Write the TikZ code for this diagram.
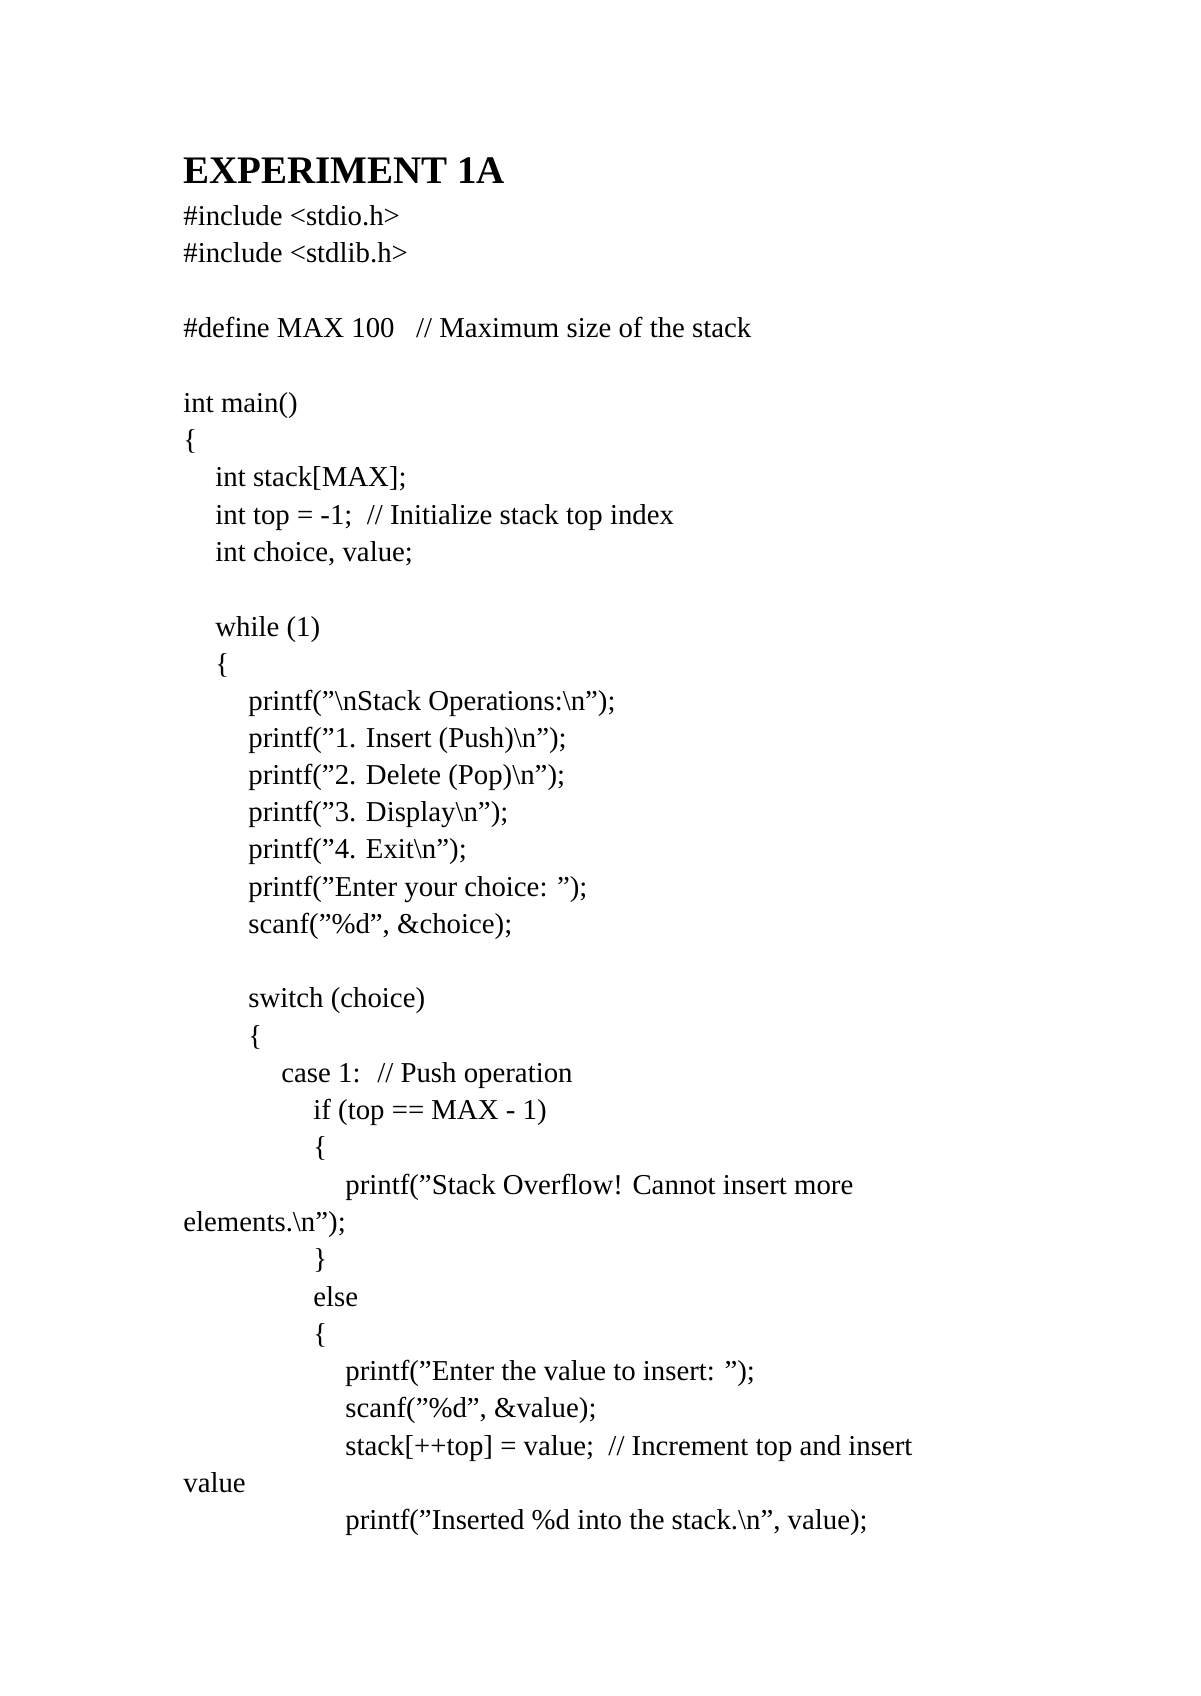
\documentclass[tikz,border=0pt]{standalone}
\usepackage{fontspec}
\setmainfont{Liberation Serif}[Ligatures=NoCommon]
\begin{document}
\begin{tikzpicture}[x=0.5pt,y=-0.5pt,
  ln/.style={anchor=base west,inner sep=0pt,font=\fontsize{14.4pt}{16pt}\selectfont}]
\useasboundingbox (0,0) rectangle (1200,1696);
\node[anchor=base west,inner sep=0pt,font=\bfseries\fontsize{19.5pt}{22pt}\selectfont] (title) at (183,184) {EXPERIMENT 1A};
\def\bs{\textbackslash}
\def\q{\symbol{34}}
\node[ln] (a1) at (183,226) {\#include <stdio.h>};
\node[ln] (a2) at (183,263) {\#include <stdlib.h>};
\node[ln] (a3) at (183,337) {\#define MAX 100 \ \ // Maximum size of the stack};
\node[ln] (a4) at (183,412) {int main()};
\node[ln] (a5) at (183,449) {\{};
\node[ln] (a6) at (215,486) {int stack[MAX];};
\node[ln] (a7) at (215,524) {int top = -1; \ // Initialize stack top index};
\node[ln] (a8) at (215,561) {int choice, value;};
\node[ln] (a9) at (215,636) {while (1)};
\node[ln] (a10) at (215,673) {\{};
\node[ln] (a11) at (248,710) {printf(\q\bs nStack Operations:\bs n\q);};
\node[ln] (a12) at (248,747) {printf(\q 1. Insert (Push)\bs n\q);};
\node[ln] (a13) at (248,784) {printf(\q 2. Delete (Pop)\bs n\q);};
\node[ln] (a14) at (248,821) {printf(\q 3. Display\bs n\q);};
\node[ln] (a15) at (248,858) {printf(\q 4. Exit\bs n\q);};
\node[ln] (a16) at (248,896) {printf(\q Enter your choice: \q);};
\node[ln] (a17) at (248,933) {scanf(\q\%d\q, \&choice);};
\node[ln] (a18) at (248,1007) {switch (choice)};
\node[ln] (a19) at (248,1045) {\{};
\node[ln] (a20) at (281,1082) {case 1: \ // Push operation};
\node[ln] (a21) at (313,1119) {if (top == MAX - 1)};
\node[ln] (a22) at (313,1156) {\{};
\node[ln] (a23) at (345,1194) {printf(\q Stack Overflow! Cannot insert more};
\node[ln] (a24) at (183,1231) {elements.\bs n\q);};
\node[ln] (a25) at (313,1268) {\}};
\node[ln] (a26) at (313,1306) {else};
\node[ln] (a27) at (313,1343) {\{};
\node[ln] (a28) at (345,1380) {printf(\q Enter the value to insert: \q);};
\node[ln] (a29) at (345,1417) {scanf(\q\%d\q, \&value);};
\node[ln] (a30) at (345,1455) {stack[++top] = value; \ // Increment top and insert};
\node[ln] (a31) at (183,1492) {value};
\node[ln] (a32) at (345,1529) {printf(\q Inserted \%d into the stack.\bs n\q, value);};
\end{tikzpicture}
\end{document}
